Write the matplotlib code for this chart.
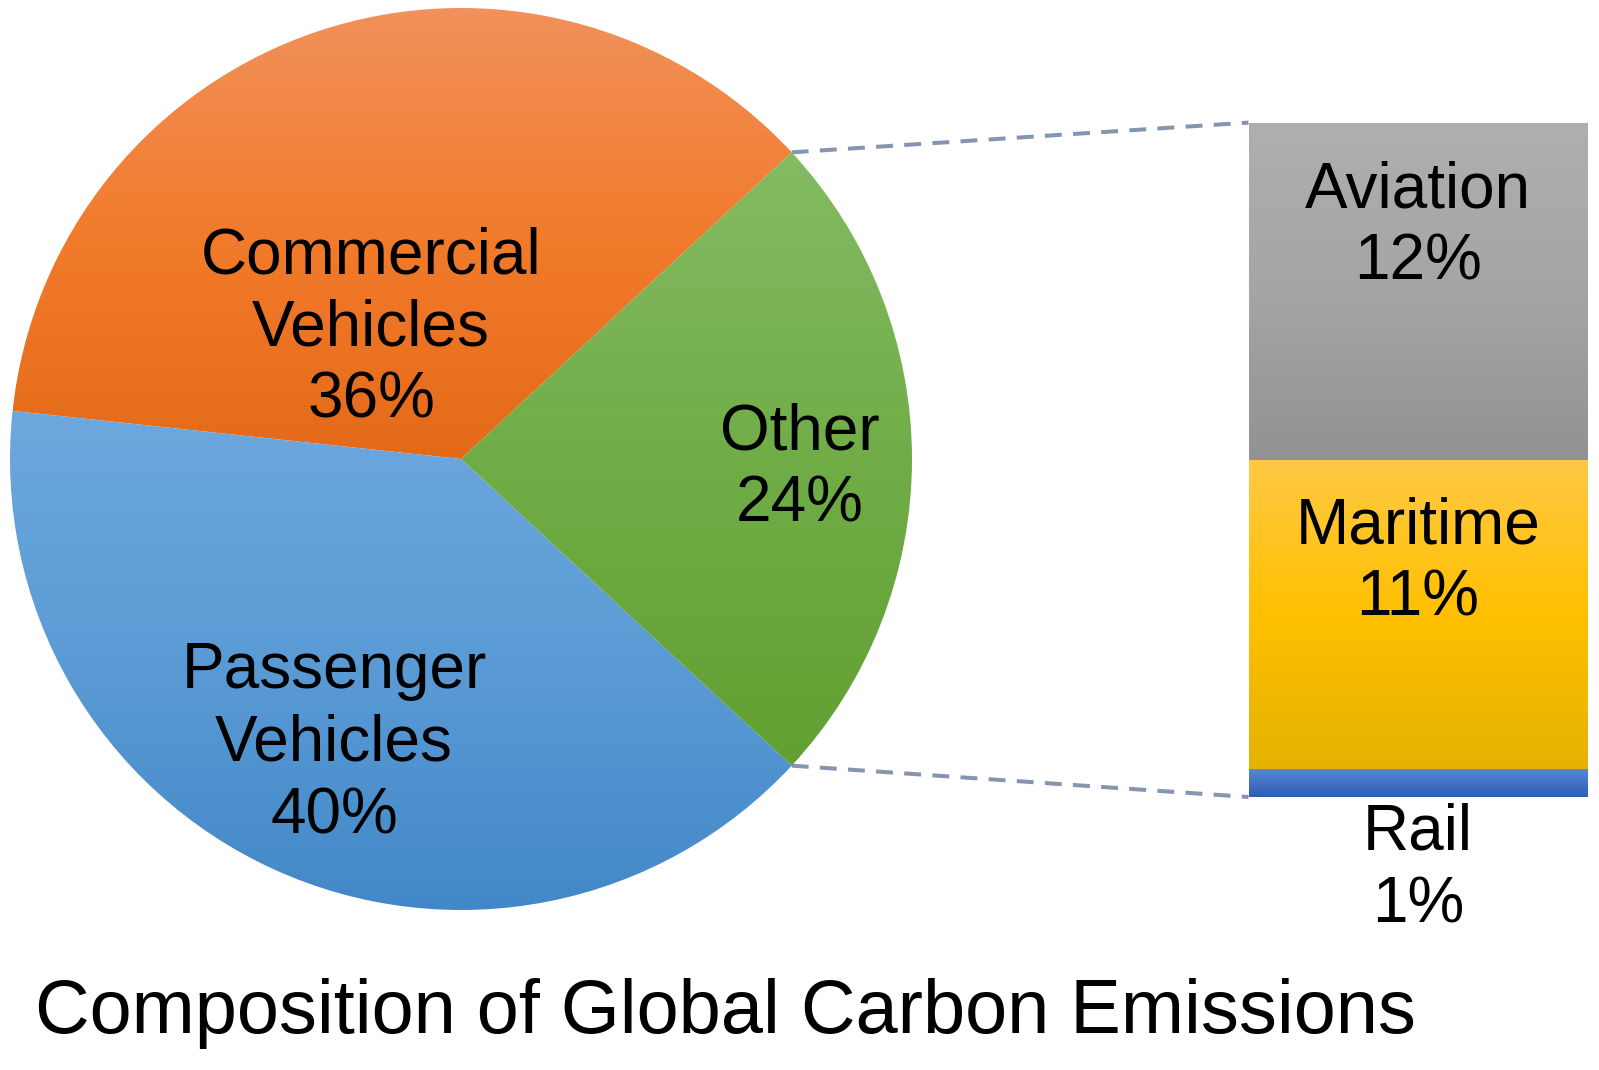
#!/usr/bin/env python3
"""
Pie-of-bar chart: composition of global carbon emissions (transport).
"""
import numpy as np
import matplotlib
matplotlib.use("Agg")
import matplotlib.pyplot as plt
from matplotlib.colors import LinearSegmentedColormap

# Data (pie shares, labels show them rounded)
pie_labels = ["Commercial\nVehicles", "Passenger\nVehicles", "Other"]
pie_values = [36.4, 39.8, 23.8]
bar_labels = ["Rail", "Maritime", "Aviation"]   # bottom to top
bar_values = [1, 11, 12]

# gradient stops (top, middle, bottom)
pie_grads = [
    ["#F1915B", "#F27B2C", "#E46A18"],
    ["#6DA8DE", "#5B9BD5", "#4288C8"],
    ["#84BB63", "#70AD47", "#62A032"],
]
bar_grads = [
    ["#5A88DA", "#4472C4", "#2D5DB6"],
    ["#FFC946", "#FFC000", "#E4B200"],
    ["#AFAFAF", "#A5A5A5", "#929292"],
]

W, H = 1599, 1070
FONT = "Liberation Sans"


def fill_gradient(ax, patch, stops):
    """Paint a vertical gradient inside a patch (clipped to it)."""
    ext = patch.get_extents().transformed(ax.transData.inverted())
    cmap = LinearSegmentedColormap.from_list("g", stops[::-1])
    grad = np.linspace(0, 1, 256).reshape(-1, 1)
    im = ax.imshow(grad, cmap=cmap, origin="lower", aspect="auto",
                   extent=[ext.x0, ext.x1, ext.y0, ext.y1], zorder=1,
                   interpolation="bilinear")
    im.set_clip_path(patch)


def put_label(ax, x, y_first, text, step=72.5, fs=46):
    # one text per line so the baselines match the reference
    for i, line in enumerate(text.split("\n")):
        ax.text(x, H - (y_first + i * step), line, ha="center", va="baseline",
                fontsize=fs, family=FONT, zorder=3)


def main():
    fig = plt.figure(figsize=(W / 100, H / 100), dpi=100)
    ax = fig.add_axes([0, 0, 1, 1])
    ax.set_xlim(0, W)
    ax.set_ylim(0, H)

    # pie: "Other" slice centred on the right-hand side
    cx, cy, r = 461, H - 459, 451
    start = pie_values[2] / sum(pie_values) * 360 / 2
    wedges, _ = ax.pie(pie_values, startangle=start, counterclock=True,
                       center=(cx, cy), radius=r, frame=True,
                       wedgeprops=dict(linewidth=0))
    ax.set_xlim(0, W)
    ax.set_ylim(0, H)
    ax.set_aspect("auto")
    fig.canvas.draw()
    for w, g in zip(wedges, pie_grads):
        w.set_facecolor("none")
        fill_gradient(ax, w, g)

    # stacked bar for the breakdown of "Other"
    px_per = 28.1
    bar_x, bar_w = 1418, 339
    bar_bottom = H - 797
    bottoms = bar_bottom + np.concatenate([[0], np.cumsum(bar_values)[:-1]]) * px_per
    heights = np.array(bar_values) * px_per
    bars = ax.bar([bar_x] * 3, heights, width=bar_w, bottom=bottoms, linewidth=0)
    fig.canvas.draw()
    for b, g in zip(bars, bar_grads):
        b.set_facecolor("none")
        fill_gradient(ax, b, g)

    # connector lines
    a = np.deg2rad(start)
    top_y = bottoms[-1] + heights[-1]
    left = bar_x - bar_w / 2
    ax.plot([cx + r * np.cos(a), left], [cy + r * np.sin(a), top_y],
            color="#8496AF", lw=2.9, dashes=(4.2, 2.8), zorder=0)
    ax.plot([cx + r * np.cos(a), left], [cy - r * np.sin(a), bar_bottom],
            color="#8496AF", lw=2.9, dashes=(4.2, 2.8), zorder=0)

    # labels
    pie_pos = [(371, 273), (334, 688), (800, 449)]
    for (x, y), lab, v in zip(pie_pos, pie_labels, pie_values):
        put_label(ax, x, y, f"{lab}\n{v:.0f}%")
    bar_pos = [(bar_x, 850), (bar_x, 543), (bar_x, 207)]
    for (x, y), lab, v in zip(bar_pos, bar_labels, bar_values):
        put_label(ax, x, y, f"{lab}\n{v}%")

    ax.text(35, H - 1033, "Composition of Global Carbon Emissions",
            ha="left", va="baseline", fontsize=54.5, family=FONT)

    ax.axis("off")
    fig.savefig("out.png", dpi=100)


if __name__ == "__main__":
    main()
